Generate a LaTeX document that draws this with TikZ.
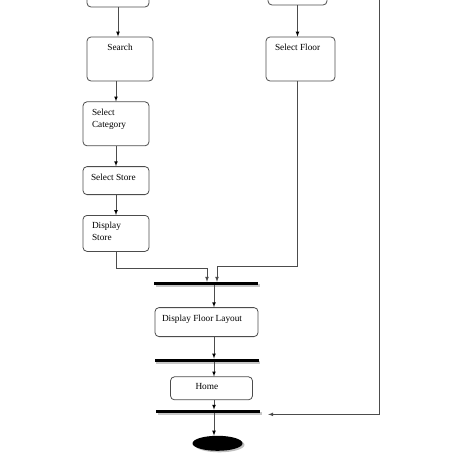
\documentclass[tikz,border=0pt]{standalone}
\usepackage{fontspec}
\setmainfont{Liberation Serif}
\usetikzlibrary{arrows, positioning, shapes.geometric, shadows}

\newcommand{\acttext}[4]{\parbox[b][#2][t]{#1}{\vspace{7pt}\leftskip=#3\relax #4}}

\begin{document}
\begin{tikzpicture}[x=1pt, y=-1pt, >=latex,
  act/.style={draw=black!70, line width=0.8pt, rounded corners=4pt, inner sep=0pt, font=\fontsize{9.3}{12}\selectfont},
  bar/.style={fill=black, minimum width=104pt, minimum height=3pt, inner sep=0pt,
    drop shadow={shadow xshift=1.5pt, shadow yshift=-2pt, fill=black!22, opacity=1}},
  flow/.style={draw=black!70, line width=0.7pt}]
  \useasboundingbox (0,0) rectangle (474,474);

  \node[act, minimum width=62pt, minimum height=40pt] (topL) at (118,-13) {};
  \node[act] (search) at (120,59) {\acttext{66pt}{44pt}{0pt}{\centering Search}};
  \node[act, below=20pt of search, xshift=-4pt] (category) {\acttext{66pt}{44pt}{9pt}{Select\\Category}};
  \node[act, below=20pt of category] (store) {\acttext{66pt}{28pt}{8pt}{Select Store}};
  \node[act, below=20pt of store] (dstore) {\acttext{66pt}{36pt}{9pt}{Display\\Store}};

  \node[act, minimum width=59pt, minimum height=40pt] (topR) at (297.5,-15) {};
  \node[act] (floor) at (300.5,59) {\acttext{69pt}{44pt}{9pt}{Select Floor}};

  \node[bar] (bar1) at (206,283.5) {};
  \node[act, below=22pt of bar1, xshift=0.5pt] (layout) {\acttext{103pt}{29pt}{7pt}{Display Floor Layout}};
  \node[bar, below=21.5pt of layout] (bar2) {};
  \node[act, below=14.5pt of bar2, xshift=5pt] (home) {\acttext{82pt}{23pt}{25pt}{Home}};
  \node[bar, below=9.5pt of home, xshift=-3.5pt] (bar3) {};
  \node[ellipse, fill=black, minimum width=50pt, minimum height=15pt, inner sep=0pt,
    below=22.5pt of bar3, xshift=9.5pt,
    drop shadow={shadow xshift=2pt, shadow yshift=-1.5pt, fill=black!25, opacity=1}] (final) {};

  \coordinate (axis) at (214,0);
  \coordinate (inL) at (207,0);
  \coordinate (inR) at (217,0);
  \coordinate (loop) at (379,-5);

  \path[flow] (topL.south) edge[->] (topL.south |- search.north)
              (category.north |- search.south) edge[->] (category.north)
              (category) edge[->] (store) (store) edge[->] (dstore)
              (topR.south) edge[->] (topR.south |- floor.north);
  \draw[flow, ->] (dstore.south) -- ++(0,17) -| (inL |- bar1.north);
  \draw[flow, ->] (topR.south |- floor.south) -- ++(0,185) -| (inR |- bar1.north);

  \path[flow] (axis |- bar1.south) edge[->] (axis |- layout.north)
              (axis |- layout.south) edge[->] (axis |- bar2.north)
              (axis |- bar2.south) edge[->] (axis |- home.north)
              (axis |- home.south) edge[->] (axis |- bar3.north)
              (axis |- bar3.south) edge[->] (axis |- final.north);
  \draw[flow, ->] (loop) |- ([xshift=8pt, yshift=-3pt]bar3.east);
\end{tikzpicture}
\end{document}
